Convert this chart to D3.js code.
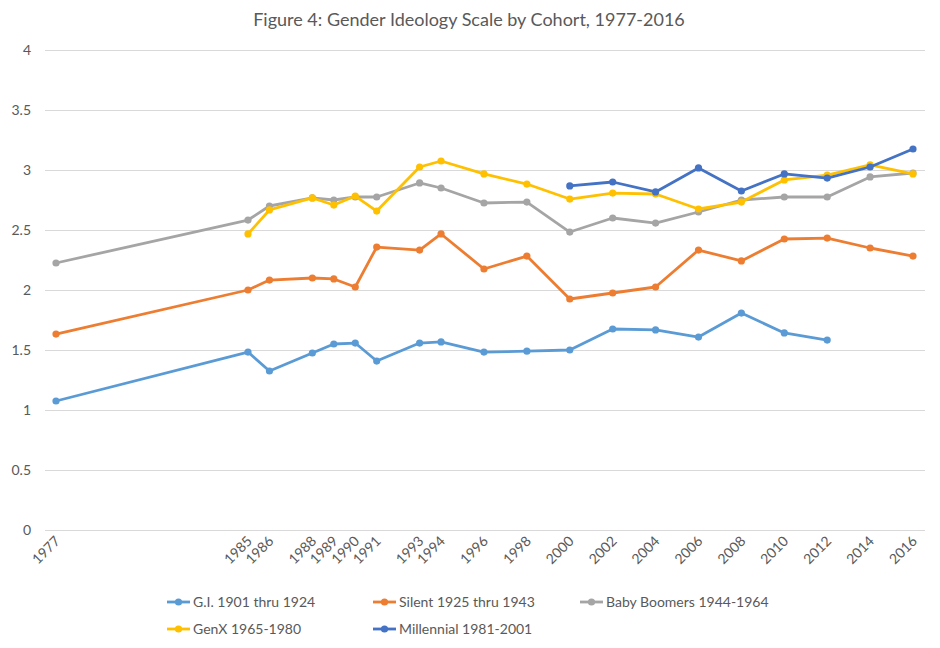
<!DOCTYPE html>
<html>
<head>
<meta charset="utf-8">
<script src="https://cdn.jsdelivr.net/npm/d3@7"></script>
<style>
  body { margin: 0; background: #fff; }
  text { font-family: Lato, "Open Sans", sans-serif; fill: #595959; }
</style>
</head>
<body>
<div id="chart"></div>
<script>
// Data
var years      = [1977, 1985, 1986, 1988, 1989, 1990, 1991, 1993, 1994, 1996, 1998,
                  2000, 2002, 2004, 2006, 2008, 2010, 2012, 2014, 2016];
var yTicks     = [0, 0.5, 1, 1.5, 2, 2.5, 3, 3.5, 4];

var giVals     = [1.075, 1.483, 1.325, 1.475, 1.55, 1.558, 1.408, 1.558, 1.567, 1.483, 1.49,
                  1.5, 1.675, 1.667, 1.608, 1.808, 1.642, 1.583, null, null];
var silentVals = [1.633, 2.0, 2.083, 2.1, 2.092, 2.025, 2.358, 2.333, 2.467, 2.175, 2.283,
                  1.925, 1.975, 2.025, 2.333, 2.242, 2.425, 2.433, 2.35, 2.283];
var boomerVals = [2.225, 2.583, 2.7, 2.767, 2.75, 2.775, 2.775, 2.892, 2.85, 2.725, 2.733,
                  2.483, 2.6, 2.558, 2.65, 2.75, 2.775, 2.775, 2.942, 2.975];
var genxVals   = [null, 2.467, 2.667, 2.767, 2.708, 2.783, 2.658, 3.025, 3.075, 2.967, 2.883,
                  2.758, 2.808, 2.8, 2.675, 2.733, 2.917, 2.958, 3.042, 2.967];
var millVals   = [null, null, null, null, null, null, null, null, null, null, null,
                  2.867, 2.9, 2.817, 3.017, 2.825, 2.967, 2.933, 3.025, 3.175];

var seriesNames  = ["G.I. 1901 thru 1924", "Silent 1925 thru 1943", "Baby Boomers 1944-1964",
                    "GenX 1965-1980", "Millennial 1981-2001"];
var seriesColors = ["#5B9BD5", "#ED7D31", "#A5A5A5", "#FFC000", "#4472C4"];
var seriesVals   = [giVals, silentVals, boomerVals, genxVals, millVals];

// Size
var chart_width  = 940;
var chart_height = 648;

var svg = d3.select("#chart")
    .append("svg")
    .attr("width", chart_width)
    .attr("height", chart_height);

// Scales (date axis in the original is not evenly spaced before 1985)
var x = d3.scaleLinear()
    .domain([1977, 1985, 2016])
    .range([56, 248, 913]);
var y = d3.scaleLinear()
    .domain([0, 4])
    .range([530, 50]);

// Title
svg.append("text")
    .attr("x", 469)
    .attr("y", 26)
    .attr("text-anchor", "middle")
    .style("font-size", "18px")
    .text("Figure 4: Gender Ideology Scale by Cohort, 1977-2016");

// Gridlines + y labels
var yAxis = d3.axisLeft(y)
    .tickValues(yTicks)
    .tickSize(-880)
    .tickPadding(14)
    .tickFormat(d3.format("~g"));

var gy = svg.append("g")
    .attr("transform", "translate(45,0)")
    .call(yAxis);
gy.select(".domain").remove();
gy.selectAll("line").attr("stroke", "#D9D9D9").attr("stroke-width", 1);
gy.selectAll("text").style("font-size", "14px").style("fill", "#595959")
    .attr("font-family", "Lato, sans-serif");

// X labels
svg.append("g")
    .selectAll("text")
    .data(years)
    .enter()
    .append("text")
    .attr("text-anchor", "end")
    .attr("transform", d => "translate(" + (x(d) + 5) + ",542) rotate(-45)")
    .style("font-size", "14px")
    .text(d => d);

// Lines
var line = d3.line()
    .defined(d => d.v != null)
    .x(d => x(d.year))
    .y(d => y(d.v));

seriesVals.forEach(function(vals, i) {
    var pts = years.map((yr, j) => ({ year: yr, v: vals[j] }));
    svg.append("path")
        .datum(pts)
        .attr("d", line)
        .attr("fill", "none")
        .attr("stroke", seriesColors[i])
        .attr("stroke-width", 2.8)
        .attr("stroke-linejoin", "round");
    svg.append("g")
        .selectAll("circle")
        .data(pts.filter(d => d.v != null))
        .enter()
        .append("circle")
        .attr("cx", d => x(d.year))
        .attr("cy", d => y(d.v))
        .attr("r", 3.6)
        .attr("fill", seriesColors[i]);
});

// Legend
var legendPos = [[167, 602], [373, 602], [580, 602], [167, 629], [373, 629]];
var legend = svg.append("g")
    .selectAll("g")
    .data(seriesNames)
    .enter()
    .append("g")
    .attr("transform", (d, i) => "translate(" + legendPos[i][0] + "," + legendPos[i][1] + ")");
legend.append("line")
    .attr("x1", 0).attr("x2", 23)
    .attr("stroke", (d, i) => seriesColors[i])
    .attr("stroke-width", 2.8);
legend.append("circle")
    .attr("cx", 11.5)
    .attr("r", 3.6)
    .attr("fill", (d, i) => seriesColors[i]);
legend.append("text")
    .attr("x", 26)
    .attr("dy", "0.35em")
    .style("font-size", "14px")
    .text(d => d);
</script>
</body>
</html>
